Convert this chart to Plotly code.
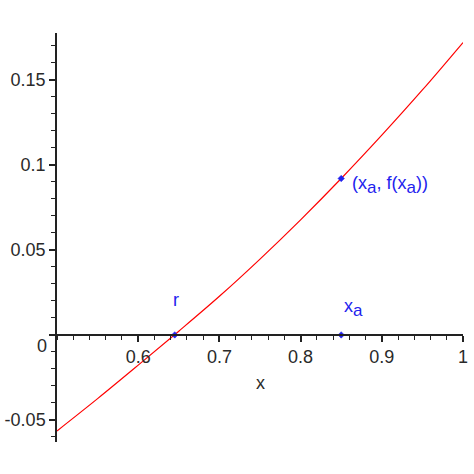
import plotly.graph_objects as go

# curve samples
curve_x = [0.50, 0.55, 0.60, 0.65, 0.70, 0.75, 0.80, 0.85, 0.90, 0.95, 1.00]
curve_y = [-0.0565, -0.0375, -0.0178, 0.0022, 0.0227, 0.0446, 0.0677, 0.092, 0.1175, 0.1441, 0.172]

# special points
pts_x = [0.645, 0.85, 0.85]
pts_y = [0.0, 0.0, 0.092]

x_tickvals = [0.6, 0.7, 0.8, 0.9, 1.0]
x_ticktext = ["0.6", "0.7", "0.8", "0.9", "1"]
y_tickvals = [-0.05, 0.0, 0.05, 0.1, 0.15]
y_ticktext = ["-0.05", "", "0.05", "0.1", "0.15"]

x_range = [0.5, 1.0]
y_range = [-0.063, 0.1776]

font_fam = "Liberation Sans, Arial, sans-serif"
lbl_color = "#2a2a2a"
blue = "#2222ee"
sub_a = "<sub><span style='font-size:17px'>a</span></sub>"

fig = go.Figure()
fig.add_trace(go.Scatter(x=curve_x, y=curve_y, mode="lines",
                         line=dict(color="#ff0000", width=1.2, shape="spline"),
                         hoverinfo="skip", showlegend=False))
fig.add_trace(go.Scatter(x=pts_x, y=pts_y, mode="markers",
                         marker=dict(symbol="diamond", size=5, color=blue,
                                     line=dict(color=blue, width=0.5)),
                         showlegend=False))

xpos = (0 - y_range[0]) / (y_range[1] - y_range[0])

fig.update_layout(
    width=474, height=474,
    margin=dict(l=57, r=11, t=33, b=32),
    paper_bgcolor="white", plot_bgcolor="white",
    font=dict(family=font_fam, size=18, color=lbl_color),
    xaxis=dict(range=x_range, anchor="free", position=xpos, automargin=False,
               showgrid=False, zeroline=False,
               showline=True, linecolor="#222", linewidth=1.5,
               tickvals=x_tickvals, ticktext=x_ticktext,
               ticks="outside", ticklen=6, tickcolor="#222", tickwidth=1.5,
               tickfont=dict(size=18, family=font_fam, color=lbl_color),
               minor=dict(dtick=0.02, tick0=0.5, ticks="outside", ticklen=4,
                          tickcolor="#222", tickwidth=1.2)),
    yaxis=dict(range=y_range, automargin=False, showgrid=False, zeroline=False,
               showline=True, linecolor="#222", linewidth=1.5,
               tickvals=y_tickvals, ticktext=y_ticktext,
               ticks="outside", ticklen=6, tickcolor="#222", tickwidth=1.5,
               tickfont=dict(size=18, family=font_fam, color=lbl_color),
               minor=dict(dtick=0.01, tick0=0, ticks="outside", ticklen=4,
                          tickcolor="#222", tickwidth=1.2)),
    annotations=[
        dict(x=0, y=0, xref="paper", yref="y", text="0", showarrow=False,
             xanchor="right", xshift=-8, yshift=-11,
             font=dict(size=18, family=font_fam, color=lbl_color)),
        dict(x=0.75, y=-0.028, xref="x", yref="y", text="x", showarrow=False,
             font=dict(size=18, family=font_fam, color=lbl_color)),
        dict(x=0.647, y=0.0206, xref="x", yref="y", text="r", showarrow=False,
             font=dict(size=18, family=font_fam, color=blue)),
        dict(x=0.851, y=0.016, xref="x", yref="y", text="x" + sub_a, showarrow=False,
             xanchor="left", font=dict(size=18, family=font_fam, color=blue)),
        dict(x=0.861, y=0.088, xref="x", yref="y",
             text="(x" + sub_a + ", f(x" + sub_a + "))",
             showarrow=False, xanchor="left",
             font=dict(size=18, family=font_fam, color=blue)),
    ],
)

fig.write_html("out.html", config={"displayModeBar": False},
               post_script="document.body.style.margin='0';document.body.style.overflow='hidden';")
